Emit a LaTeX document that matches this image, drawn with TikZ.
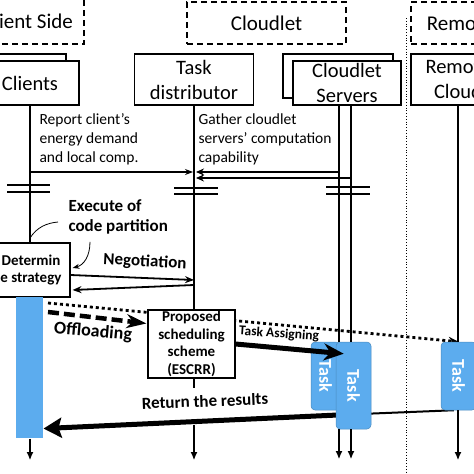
\documentclass[tikz,border=0pt]{standalone}
\usepackage{fontspec}
\setmainfont{Carlito}
\usepackage{graphicx}
\usetikzlibrary{arrows.meta,calc,backgrounds,positioning}
\definecolor{taskblue}{RGB}{92,172,238}
\tikzstyle{seq}=[
  x=1pt,y=-1pt,>=stealth,line width=1.1pt
]
\tikzstyle{sidebox}=[
  draw,line width=1.3pt,dash pattern=on 6pt off 4pt,minimum height=42pt,
  font=\fontsize{21}{24}\selectfont
]
\tikzstyle{objbox}=[
  draw,fill=white,line width=1.1pt,inner sep=0pt,align=center,
  font=\fontsize{20.5}{25}\selectfont
]
\tikzstyle{boldbox}=[
  draw,fill=white,line width=1.1pt,inner sep=0pt,align=center,
  font=\bfseries\fontsize{15}{17.5}\selectfont
]
\tikzstyle{taskbar}=[
  draw=taskblue!80!black,line width=0.5pt,fill=taskblue,rounded corners=4pt,
  inner sep=0pt,text=white,font=\bfseries\fontsize{18}{20}\selectfont
]
\tikzstyle{lifeline}=[
  line width=1.1pt
]
\tikzstyle{lifeend}=[
  line width=1.1pt,-{Latex[length=8pt,width=7pt]}
]
\tikzstyle{breakmark}=[
  line width=1.5pt
]
\tikzstyle{note}=[
  align=left,inner sep=0pt,font=\fontsize{15.5}{19}\selectfont
]
\tikzstyle{boldnote}=[
  inner sep=0pt,font=\bfseries\fontsize{17}{20}\selectfont
]
\tikzstyle{msg}=[
  line width=1.1pt,-{Stealth[length=8pt,width=6pt]}
]
\tikzstyle{capmsg}=[
  line width=2.4pt,-{Stealth[length=8pt,width=7pt]}
]
\tikzstyle{negmsg}=[
  line width=1.8pt,-{Stealth[length=9pt,width=7pt]}
]
\tikzstyle{offmsg}=[
  line width=4.5pt,dash pattern=on 11pt off 5pt,-{Stealth[length=20pt,width=14pt]}
]
\tikzstyle{dotmsg}=[
  line width=2.8pt,dash pattern=on 3pt off 3pt,-{Stealth[length=10pt,width=8pt]}
]
\tikzstyle{assignmsg}=[
  line width=5pt,-{Stealth[length=20pt,width=17pt]}
]
\tikzstyle{returnmsg}=[
  line width=5pt,-{Stealth[length=18pt,width=20pt,inset=3pt]}
]

\begin{document}
\begin{tikzpicture}[seq]
  \useasboundingbox (0,0) rectangle (474,474);
  \clip (0,0) rectangle (474,474);
  % sides
  \node (clientside) [sidebox,minimum width=112pt,minimum height=46pt] at (28,21) {Client Side};
  \node (cloudlet) [sidebox,minimum width=159pt] at (266.5,23) {Cloudlet};
  \node (remoteside) [sidebox,minimum width=152pt] at (487,23) {Remote Cloud};
  \draw [dotted,line width=0.8pt] (406,18) -- (406,474);

  % objects
  \node (clientsbk) [objbox,minimum width=98pt,minimum height=44pt] at (17,76) {};
  \node (clients) [objbox,minimum width=98pt,minimum height=44pt] at (30,83) {Clients};
  \node (distributor) [objbox,minimum width=119pt,minimum height=51pt] at (194,79.5) {Task\\distributor};
  \node (serversbk) [objbox,minimum width=110pt,minimum height=44pt] at (338,76) {};
  \node (servers) [objbox,minimum width=108pt,minimum height=44pt] at (347,83) {Cloudlet\\Servers};
  \node (remote) [objbox,minimum width=94pt,minimum height=51pt] at (458,79.5) {Remote\\Cloud};

  % steps
  \node (strategy) [boldbox,minimum width=78pt,minimum height=54pt] at (31,270) {Determin\\e strategy};
  \node (clientbar) [fill=taskblue,inner sep=0pt,minimum width=27pt,minimum height=141pt] at (29.5,367.5) {};
  \node (proposed) [boldbox,minimum width=87pt,minimum height=68pt] at (191.5,344) {Proposed\\scheduling\\scheme\\(ESCRR)};
  \node (taskbk) [taskbar,minimum width=29pt,minimum height=68pt] at (325.5,376) {\rotatebox{-90}{Task}};
  \node (taskfr) [taskbar,minimum width=35pt,minimum height=87pt] at (353.5,385.5) {\rotatebox{-90}{Task}};
  \node (taskrm) [taskbar,minimum width=35pt,minimum height=68pt] at (458.5,376) {\rotatebox{-90}{Task}};

  % points on the lifelines
  \coordinate (reportA) at (30,172);
  \coordinate (reportB) at (194,172);
  \coordinate (gatherA) at (339,172);
  \coordinate (gatherB) at (196,172);
  \coordinate (gatherC) at (351,178);
  \coordinate (gatherD) at (196,178);
  \coordinate (distgap) at (194,388);
  \coordinate (distresume) at (194,425);
  \coordinate (distend) at (194,460);
  \coordinate (clientsend) at (30,460);
  \coordinate (serversendA) at (339,459);
  \coordinate (serversendB) at (351,459);
  \coordinate (remoteend) at (458,460);
  \coordinate (offstart) at (48,312);
  \coordinate (dotstart) at (48,303);

  % lifelines
  \draw [lifeline] (clients.south) -- (clients.south |- strategy.north);
  \draw [lifeline] (distributor.south) -- (proposed.north -| distributor.south);
  \draw [lifeline] (proposed.south -| distributor.south) -- (distgap);
  \draw [lifeend] (distresume) -- (distend);
  \draw [lifeend] (clientbar.south -| clients.south) -- (clientsend);
  \draw [lifeline] (servers.south -| gatherA) -- (taskfr.north -| gatherA);
  \draw [lifeline] (servers.south -| gatherC) -- (taskfr.north -| gatherC);
  \draw [lifeend] (taskfr.south -| gatherA) -- (serversendA);
  \draw [lifeend] (taskfr.south -| gatherC) -- (serversendB);
  \draw [lifeline] (remote.south) -- (taskrm.north -| remote.south);
  \draw [lifeend] (taskrm.south -| remote.south) -- (remoteend);

  % breaks
  \draw [breakmark] (7,185) -- (50,185) (7,192) -- (50,192);
  \draw [breakmark] (174,188) -- (218,188) (174,194) -- (218,194);
  \draw [breakmark] (326,187) -- (370,187) (326,194) -- (370,194);

  % messages
  \node (reportnote) [note,anchor=west] at (39,139) {Report client's\\energy demand\\and local comp.};
  \node (gathernote) [note,anchor=west] at (198,139) {Gather cloudlet\\servers' computation\\capability};
  \draw [msg] (reportA) -- ($(reportB)+(-1,0)$);
  \draw [capmsg] (gatherA) -- (gatherB);
  \draw [capmsg] (gatherC) -- (gatherD);

  \node (execnote) [boldnote,align=left,anchor=west] at (68,217) {Execute of\\code partition};
  \draw [line width=0.8pt] (30,238) .. controls (37,227) and (47,223) .. ($(execnote.west)+(-10,5)$);
  \draw [line width=0.8pt,-{Stealth[length=7pt,width=5pt]}] ($(execnote.south west)+(22,7)$) .. controls (90,256) and (84,265) .. ($(strategy.east)+(2,-2)$);

  \node (negnote) [boldnote,rotate=-3] at (145,262) {Negotiation};
  \draw [negmsg] ($(strategy.east)+(0,5)$) -- ($(reportB)+(0,108)$);
  \draw [negmsg] ($(reportB)+(0,113)$) -- ($(strategy.east)+(2,20)$);

  \node (offnote) [boldnote,font=\bfseries\fontsize{18}{20}\selectfont,rotate=-5] at (93,332) {Offloading};
  \draw [offmsg] (offstart) -- ($(proposed.north west)+(-1,14)$);

  \begin{scope}[on background layer]
    \draw [dotmsg] (dotstart) -- (taskrm.north);
    \draw [line width=2pt] ($(taskrm.south west)+(13,0)$) -- ($(taskfr.west)+(0,29.5)$);
    \draw [returnmsg] ($(taskfr.west)+(2,29.5)$) -- ($(clientbar.south east)+(0,-10)$);
  \end{scope}
  \node (returnnote) [boldnote,rotate=2.2] at (205,401) {Return the results};

  \node (assignnote) [boldnote,font=\bfseries\fontsize{13.5}{15}\selectfont,rotate=-4] at (279,334) {Task Assigning};
  \draw [assignmsg] (proposed.east) -- ($(taskfr.north west)+(8,12)$);
\end{tikzpicture}
\end{document}
